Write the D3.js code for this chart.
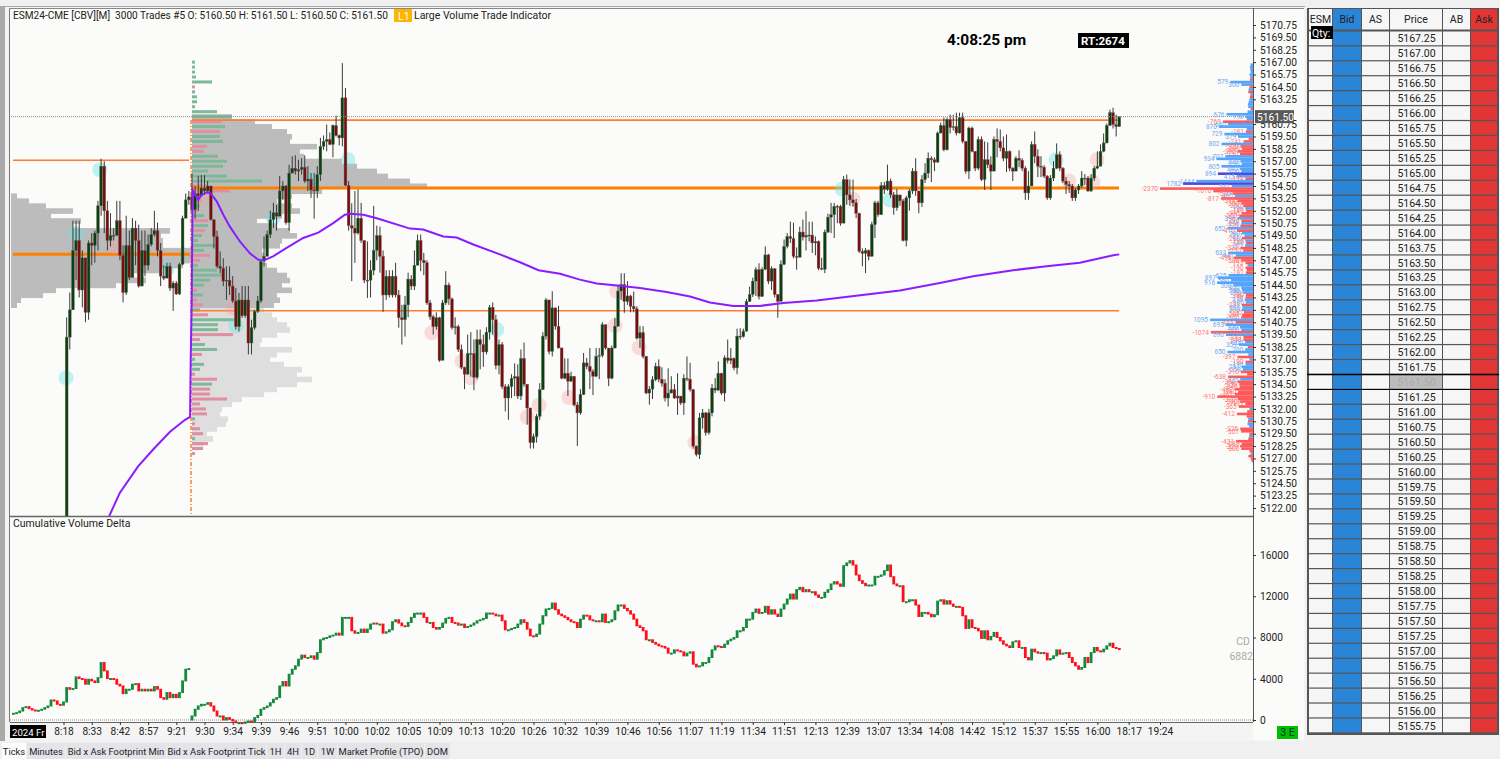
<!DOCTYPE html>
<meta charset="utf-8">
<style>
  body { margin: 0; background: #f0f0f0; overflow: hidden; }
  svg { display: block; }
  text { font-family: Roboto, "Liberation Sans", sans-serif; }
  .axis path { display: none; }
  .axis line { stroke: #333; }
  .axis text { fill: #222; font-size: 10.2px; }
</style>

<script src="https://d3js.org/d3.v7.min.js"></script>
<svg id="chart" width="1500" height="759"></svg>

<script>
// prices are kept as offset from 5100, bars are numbered from the first CVD bar
const priceBase = 5100;
const firstPriceBar = 17;
const firstPriceOpen = 20;

const barClose = [
  39.25,42,48,49,44,47.25,41.75,48.75,48.5,49.75,
  52.5,56.5,52,49,49.5,49.5,51,47.5,43.75,48.5,
  45.25,50.25,49,44.4,48,46.5,48.6,49.6,50,48,
  45.4,45.2,46.4,44.2,44.7,43.6,46.6,51.25,53.1,53.4,
  52.1,53.75,53.5,54.3,54,54.5,51.1,49.4,46.4,46.2,
  44.9,45,44.4,42.9,40.3,43,41.4,43,38.65,40.2,
  41.85,42.9,46.9,47.4,49.6,51.1,51.8,51.45,54,54.5,
  50.8,55.8,56.3,56,56.15,56.4,55,55.2,54.1,54,
  55.65,58.5,59,59.2,58.7,60.6,59.6,59.35,63.4,54.55,
  50.5,50.25,49.75,51.25,49,45,45,46,48,49.5,
  47.4,43.5,45.4,43.5,45.4,43.5,41.2,41,42.5,45.1,
  44.4,46.5,49,47,46.75,42.7,41.3,40.3,41.2,36.9,
  42.7,44.5,43.1,40.2,40.3,38,36.2,35.5,37.6,37.6,
  35.2,39,38.5,37.75,39.75,42.25,41,36.4,38.5,34.25,
  33.1,34.25,35.1,35.25,33.3,37.1,34.5,32.1,28.6,29.2,
  31.25,33.95,39.35,43,37.8,42.2,40.35,38.15,35.1,35.6,
  34.8,35.3,32.4,31.6,33.45,36.65,36.3,35.8,35.3,37.3,
  37.4,40.5,38.15,35.1,38.15,40.35,43.9,44.55,42.85,43.4,
  42.35,42.1,39.15,39.7,37.3,33.6,34,34.95,36.3,35,
  34.6,33.1,33.6,33.95,33.1,33.3,32.6,35.1,35,33.95,
  28.25,27.4,31.1,31.6,29.6,31.6,34.1,33.9,35.6,33.6,
  37.15,36.9,37.1,36.15,39.35,39.3,39.85,42.85,43.55,44.9,
  46.05,43.35,46.1,47.55,44.9,46.15,43.55,42.85,46.6,48.4,
  49.4,49.2,47.4,47.3,49.85,49.35,49.5,49.55,48.75,48.9,
  46.2,46.1,49.85,51.35,51.6,52.45,52.45,50.75,55.15,53.6,
  53.1,52.8,51.75,47.9,47.7,48,47.4,50.6,52.8,51.6,
  54.55,54.15,55,53.6,52.3,53.6,53,49,53.3,54,
  56,54,52.8,55.15,55.8,57.3,57.15,56.9,59.85,60.6,
  58.15,61.2,60.4,60.5,59.85,61.4,59,56,60.35,58,
  56.3,59.2,55.15,57.15,56.65,56,59.2,59,58.35,57.3,
  58,56.3,56,57.3,57.1,56.3,53.8,54.5,58.7,57.5,
  56.5,56.4,55.5,53.3,55.3,56.3,57.65,56.3,55,54.65,
  54.5,53.3,54.1,54.5,55.3,55.3,54,55.3,56.3,56.5,
  58,58.85,60.6,61.9,60.7,60.5,61.5
];

const barHigh = [
  41.25,43.75,51,51,51,48,47.25,49,49.75,50,
  53,57.25,57,53,51.75,50.25,53,53,48.5,51.5,
  50,51.25,51,50.6,50,50,49.6,50.25,52,50.8,
  48.75,46.5,46.75,46.75,44.9,44.9,46.75,51.5,53.75,54,
  55.8,54.5,55.5,55.6,55.6,55,54,51.1,50,47.9,
  47.2,46.4,46.4,45.4,44.2,43.7,44.4,44.4,44.4,41,
  42,43.4,47.1,49.4,50,52,52.8,52.6,55.5,55,
  54.6,56.65,57.5,57.6,57.15,57.3,57.6,56.5,55.8,55.8,
  56.5,59.35,59.6,60.7,59.9,60.7,61.6,59.7,66.9,64.4,
  55,52.75,54,54.15,52.8,49,48.9,47,52.5,50.5,
  50.4,48,46,46,46,46.75,44,42.5,43.4,45.75,
  45.5,48,49.6,49.6,47.75,47,43,41.5,41.75,41.3,
  43,45.9,44.75,43.25,41.25,40.5,38.5,36.25,39.5,39.75,
  39,40,40,39.5,40.25,42.5,42.75,41.5,39,38.75,
  34.5,34.5,35.5,36.6,36.5,38,38.7,34,30.5,29.5,
  31.5,34.6,39.75,43.2,43,43.87,42.2,42.4,38.2,37.1,
  37.1,35.75,35.2,32.7,34,37.65,37.15,38.15,36,38.15,
  38.15,40.75,40.5,38.15,38.4,41.2,44.4,45.7,45.7,44.9,
  43.5,43.85,42.35,40.35,40.35,37.35,34.3,35.3,36.65,37,
  36.2,35,36.1,35.3,34.5,35.6,33.3,35.5,37.3,36.65,
  34,28.3,31.6,32,31.7,32,34.5,35.1,36.8,35.65,
  37.4,39,38.15,37.2,40.1,40.15,40.1,43.1,44.35,45.25,
  46.3,46.7,46.3,48.4,47.65,46.4,46.2,43.6,47,49.1,
  49.75,50.9,50.8,48.3,50.4,51.1,51.95,50.9,50.9,49.4,
  49,47.25,50.1,51.7,52.8,52.8,52.6,52.6,55.5,55.65,
  55.15,55.15,53.2,51.8,48.2,48.25,48.1,50.9,53,53,
  54.9,54.9,56.65,55.25,53.9,54.2,53.5,53.2,53.5,54.2,
  56.3,57.3,54,55.6,56.8,57.9,57.5,57.4,60,60.9,
  61.4,61.4,61.7,61.7,61.9,61.9,61.9,59,60.5,60.5,
  58,59.5,59.5,59,58.9,57.5,59.5,60.3,60.2,59.5,
  59.7,58.1,56.4,57.5,58.1,57.3,56.5,56,59,60,
  58.2,57.5,56.6,55.6,55.6,57,58.8,58,56.4,55.4,
  55,54.7,54.3,54.7,56,55.7,55.5,55.7,56.5,58,
  58.7,59.8,60.8,62.2,62.4,61.7,61.5
];

const barLow = [
  20,38,42,45,43.25,42.25,40.75,41,46.5,46.75,
  48,51.5,49.75,48,48.4,49,49.5,47,42.75,43.5,
  45,45.4,46.5,44.25,44.5,45.4,46,48.4,49.4,47.4,
  44.4,45,45.2,43.9,41.9,43.5,43.5,46.5,51.25,52.6,
  52,51.2,52,53.5,53.6,53.8,51,48.2,46.2,45.7,
  44.4,43,43.5,42.7,40,39.8,41.2,41.2,37.5,37.5,
  40,41.7,42.7,46.4,47.4,49.25,50.25,50,52.5,53.1,
  50.6,50,55.8,55.65,55,55.65,54.8,54,53.3,51.2,
  53.3,55,58.15,58,58.6,57.4,59.5,58.6,58.5,54.5,
  50,44.9,46.75,49.6,48.75,44.7,43.2,43.25,45.5,47,
  45.75,41.8,43,43.25,43.25,43.25,40.2,38.5,39.3,41.25,
  44,44,47,45.9,45.5,42.5,41,39.5,40,36.75,
  37,42.5,42.5,40,39.5,37.75,36,34,35.5,35.25,
  33.9,35,36,36.25,37.5,39,39.5,36,35.5,34,
  31.75,30.9,33.1,33.3,33,32.9,34.25,30.4,28,28,
  28.6,30.9,33.9,39,37.5,37.3,40,38.1,35,35,
  33.3,34.75,32.25,28.25,31.4,33.4,36,34,33.4,35.2,
  35,37.2,38,34.3,35,38.1,40.3,43,41.7,42.5,
  41.75,41.75,39,38.15,37.1,33.5,32.43,33,34.8,34.7,
  34.25,32.75,32.25,33.6,33,31.4,32.4,31.4,34.8,33.75,
  28,27.2,26.95,30,29.3,29.4,31.25,33.6,33.8,33.4,
  32.75,36.6,36.5,35.9,35.5,39,39.2,39.8,42.8,43.3,
  43.4,43.05,43.3,46,44.6,44,43.25,41.2,42.9,46.5,
  48.2,48.75,47.2,46.05,48.2,49,48,48.9,47.75,47.5,
  46,46,45.7,49.75,49.75,49.25,50.75,50.5,51.6,52.6,
  52.5,52.4,51.25,47.75,46.4,45.7,47,47.4,49.25,51.4,
  51.6,53.7,54,53.3,51.6,52,52.5,48.9,48.4,52,
  53.7,53.5,51.75,52.4,54.8,55.3,54.9,56,56.9,59.8,
  58,58.1,59.8,60.1,59.6,59.8,58.8,55.75,55.2,57.9,
  56,56.1,55,54.1,56.3,54.1,56,57.4,58,57,
  55.9,56,55,56.3,56.4,56,53.1,53.1,55,56.8,
  55.4,55.4,55.3,53.1,53.1,55,56.2,56,54.8,53.7,
  53.8,53,53,53.7,54.3,54.6,53.9,53.9,55,56.2,
  56.5,57.9,58.8,60.6,60.3,59.5,60.5
];

const cvdResetBar = 57;
const cvdClose = [
  650,710,870,1200,1300,1100,970,910,940,1040,
  1200,1360,1940,1850,1520,1430,1750,3140,2980,3050,
  4180,4020,3950,3470,3950,3790,3630,4110,5570,4760,
  4020,4020,3950,3470,3300,2560,2980,2980,3470,3530,
  2820,2980,2820,2980,2820,3240,2980,2170,2010,2660,
  2170,2490,2170,2660,3790,4920,4990,
  390,1040,1360,1520,1520,1680,1360,870,390,390,
  0,230,60,-100,-260,-260,-320,-190,-100,-190,
  230,450,1040,1200,1360,1680,2010,2170,3300,3730,
  3300,4440,4920,5250,5900,6290,6060,6060,6220,5900,
  6540,7780,7940,8000,8160,8230,8420,8230,9950,9950,
  9950,8650,8420,8490,8810,8490,8810,9300,9400,9300,
  9300,8420,8550,8750,9530,9720,9400,9140,9070,9460,
  9950,10340,10370,10370,9950,9460,9460,8970,8810,8970,
  9400,9850,9950,9460,9400,9200,9300,8970,9070,9200,
  9400,9620,9720,9850,10370,10370,10270,10110,10170,9620,
  8750,8750,8880,8970,9300,9720,9460,8810,8160,8100,
  8330,9300,10110,10760,10820,11340,10690,10270,10110,9950,
  9720,9530,9460,8970,9780,10170,10110,9720,9620,9620,
  9530,10270,9460,9530,9720,10590,11150,11150,10820,10590,
  10270,9780,9140,8970,8650,7780,
  7780,7520,7350,7190,7130,6970,6480,6480,6800,6710,
  6610,6220,6480,6610,5410,5150,5250,5570,5570,6060,
  6800,7190,7130,7030,7350,7680,7840,8000,8650,8650,
  8970,9780,9780,10430,10760,10340,10430,11020,10270,10690,
  10270,10040,10760,11240,11730,12210,11730,12640,12860,12440,
  12640,12440,12440,12120,11890,11890,12380,12640,13190,13410,
  13190,12960,14970,15230,15450,15030,14060,13510,13250,13020,
  13090,13090,13930,13930,14060,14480,15030,13900,13190,13020,
  13020,11470,11470,11660,11660,11150,10040,10430,10430,10270,
  10010,10210,11530,11660,11240,11570,11240,11020,11020,10920,
  10110,8880,9720,8970,8880,8650,7910,8650,7780,8100,
  8490,8000,7680,7350,7190,7030,7580,7680,7030,7030,
  6060,5830,6870,6610,6480,6540,6480,5830,5960,6220,
  6800,6380,6480,6540,6060,5570,5250,4920,5090,6060,
  5570,6540,7030,6710,6610,6870,7190,7450,7030,6930,
  6882
];

// session profile on the left of the 9:30 open, one row per half point, top price first
const overnightTopPrice = 53.5;
const overnightVolume = [
  6,18,35,62,40,70,62,159,150,152,152,180,180,180,172,150,120,135,105,45,32,10,6
];

// day profile, one row per half point
const sessionTopPrice = 61.5;
const sessionValueRows = 39;
const sessionVolume = [
  40,63,80,95,100,98,125,108,112,150,165,185,196,218,235,130,100,85,100,108,
  90,65,85,98,105,90,88,70,72,68,75,85,95,98,90,100,85,88,82,
  72,80,85,95,98,85,70,68,100,85,78,92,110,105,120,105,85,72,50,40,30,28,36,34,25,15,21,12
];

const deltaTopPrice = 67;
const sessionDelta = [
  3,3,3,4,20,-3,3,5,5,3,25,40,-30,33,-28,28,31,-15,-12,26,
  35,31,16,35,70,-16,-38,5,-10,8,-6,12,-16,16,-13,10,6,25,12,-18,
  -8,6,25,30,18,12,-5,11,-5,-11,8,-16,43,26,26,-41,-8,13,25,-10,
  3,12,8,-3,-25,20,-18,-18,-35,-8,-14,-15,3,-3,-8,-11,3,-16,-11,-3
];

// delta by price at the right edge, one row per tick
const ladderTopPrice = 66.75;
const ladderTick = 0.25;
const ladderDelta = [
  60,80,70,60,90,70,-80,579,300,-90,110,-120,70,-80,90,110,130,120,-60,140,
  676,190,160,-769,640,870,160,-181,729,379,-109,-241,802,-320,-280,-390,-330,707,934,320,
  290,805,340,300,894,415,-194,1444,1782,541,-2370,-1010,-520,465,-817,-398,-300,-250,196,-180,
  -290,-350,396,-296,296,-320,652,-410,280,217,-280,196,-180,201,-321,-250,632,441,-498,-300,
  -193,139,-190,-160,-182,625,897,560,916,500,300,280,250,-180,-190,210,180,-281,270,290,
  -230,-281,-300,1095,-444,693,330,300,-1074,690,-243,-243,200,359,-133,200,650,120,-397,90,
  -190,190,291,258,-310,-150,-638,325,-392,-350,-340,-462,-380,-462,-910,-390,-340,-193,-365,90,
  -150,-412,-160,120,-130,140,100,-326,-307,-90,100,-120,-431,-289,-329,-300,-90,60,-118,-60,-40
];
const ladderHighlight = [894, 1782];

const vwapBar = [
  30.6,34,39.8,44.6,50,54.8,56.4,56.6,56.9,57.2,59,60.1,61.7,62.8,64.9,67,69.1,72.3,75.5,78.2,
  80.3,82.9,87.2,92.5,97.3,102.1,105.8,107.4,111.7,116,126.6,130.8,137.2,141.5,146.8,155.3,
  161.7,167.6,174.5,180.8,186.2,192.6,200,208.5,216,222.3,229.8,238.3,245.8,256.4,267,283,
  295.7,306.4,319.1,329.8,340.4,351.1,353
];
const vwapPrice = [
  21.2,23.55,26.2,27.9,29.7,30.9,31.2,37,42.7,54.1,53.1,53.6,53.85,53.8,52.95,51.6,50.4,48.9,47.7,47.05,
  47.05,47.4,48.25,49.25,49.8,50.75,51.6,51.7,51.6,51.25,50.2,50.1,49.4,49.3,48.6,47.6,
  46.8,46,45.65,45.05,44.65,44.45,44.2,43.8,43.35,42.75,42.4,42.4,42.7,42.95,43.35,43.95,
  44.7,45.4,46,46.4,46.75,47.5,47.6
];

const buyBubbleBar = [27.6,20,16.8,95.3,82.9,106.8,71,49,154.3,264.5,279.8,332.8];
const buyBubblePrice = [56.15,49.7,35.15,55.15,51.3,57.15,40.4,46.05,40,54.2,53.1,57.15];
const sellBubbleBar = [32.4,70,60.2,133.6,143.2,146,164,167.8,177.3,192.6,192,199.7,217.5,268,336.9,344.6,345.9];
const sellBubblePrice = [48.4,42.2,53.3,39.7,36.8,35.15,31.2,32.4,33.15,43.85,40.4,38.2,28.6,53.2,55,54.9,57.15];

const lastPrice = 61.5;
const openBar = 56.7;
const overnightHigh = 57.1;
const overnightPoc = 47.6;
const sessionHigh = 61.15;
const sessionPoc = 54.3;
const sessionLow = 41.9;

const priceTicks = [
  5170.75,5169.5,5168.25,5167,5165.75,5164.5,5163.25,5160.75,5159.5,5158.25,5157,5155.75,5154.5,5153.25,
  5152,5150.75,5149.5,5148.25,5147,5145.75,5144.5,5143.25,5142,5140.75,5139.5,5138.25,5137,5135.75,
  5134.5,5133.25,5132,5130.75,5129.5,5128.25,5127,5125.75,5124.5,5123.25,5122
];
const cvdTicks = [0, 4000, 8000, 12000, 16000];
const timeTickBars = [
  16,25,34,43,52,61,70,79,88,97,106,116,126,136,146,156,166,176,186,196,206,216,226,236,246,256,266,276,
  286,296,306,316,326,336,346,356,366
];
const timeTickLabels = [
  "8:18","8:33","8:42","8:57","9:21","9:30","9:34","9:39","9:46","9:51","10:00","10:02","10:05","10:09",
  "10:13","10:20","10:26","10:32","10:39","10:46","10:56","11:07","11:19","11:34","11:51","12:13","12:39",
  "13:07","13:34","14:08","14:42","15:12","15:37","15:55","16:00","18:17","19:24"
];

const tabNames = ["Ticks","Minutes","Bid x Ask Footprint Min","Bid x Ask Footprint Tick","1H","4H","1D","1W","Market Profile (TPO)","DOM"];
const tabEdges = [2,27,66,167,267,285,302,318,338,425,451];

const domColumns = ["ESM","Bid","AS","Price","AB","Ask"];
const domEdges = [1309,1333,1362,1390,1443,1471,1498];
const domPrices = [
  "5167.25","5167.00","5166.75","5166.50","5166.25","5166.00","5165.75","5165.50","5165.25","5165.00",
  "5164.75","5164.50","5164.25","5164.00","5163.75","5163.50","5163.25","5163.00","5162.75","5162.50",
  "5162.25","5162.00","5161.75","5161.50","5161.25","5161.00","5160.75","5160.50","5160.25","5160.00",
  "5159.75","5159.50","5159.25","5159.00","5158.75","5158.50","5158.25","5158.00","5157.75","5157.50",
  "5157.25","5157.00","5156.75","5156.50","5156.25","5156.00","5155.75"
];

const svg = d3.select("#chart");

// scales
const x = d3.scaleLinear().domain([0, 353]).range([13.4, 1119.3]);
const y = d3.scaleLinear().domain([70.75, 22]).range([25, 508]);
const yCvd = d3.scaleLinear().domain([0, 16000]).range([720, 555]);
const volumeWidth = d3.scaleLinear().domain([0, 100]).range([0, 100]);
const ladderWidth = d3.scaleLinear().domain([0, 2370]).range([0, 93]);

// panels
svg.append("rect").attr("x", 0).attr("y", 6).attr("width", 1305).attr("height", 735).attr("fill", "#a9a9a9");
svg.append("rect").attr("x", 5).attr("y", 7).attr("width", 1300).attr("height", 734).attr("fill", "#f4f4f4");
svg.append("rect").attr("x", 10).attr("y", 9).attr("width", 1243).attr("height", 713).attr("fill", "#fbfbf9");
svg.append("rect").attr("x", 1253).attr("y", 9).attr("width", 51).attr("height", 731).attr("fill", "#fbfbf9");
svg.append("rect").attr("x", 0).attr("y", 0).attr("width", 1500).attr("height", 6).attr("fill", "#f0f0f0");
svg.append("line").attr("x1", 9.5).attr("x2", 9.5).attr("y1", 8).attr("y2", 722).attr("stroke", "#777");
svg.append("line").attr("x1", 9).attr("x2", 1304).attr("y1", 8.5).attr("y2", 8.5).attr("stroke", "#888");
svg.append("line").attr("x1", 1253.5).attr("x2", 1253.5).attr("y1", 8).attr("y2", 722).attr("stroke", "#555");
svg.append("line").attr("x1", 10).attr("x2", 1253).attr("y1", 516.5).attr("y2", 516.5).attr("stroke", "#666").attr("stroke-width", 1.5);
svg.append("line").attr("x1", 10).attr("x2", 1253).attr("y1", 722.5).attr("y2", 722.5).attr("stroke", "#666");

svg.append("clipPath").attr("id", "priceClip").append("rect")
  .attr("x", 10).attr("y", 9).attr("width", 1243).attr("height", 507);

const pricePane = svg.append("g").attr("clip-path", "url(#priceClip)");

// volume profiles behind the candles
function drawProfile(rows, topPrice, left, color) {
  pricePane.append("g").selectAll("rect")
    .data(rows)
    .join("rect")
    .attr("x", left)
    .attr("y", (d, i) => y(topPrice - i * 0.5) - 2.5)
    .attr("width", d => volumeWidth(d))
    .attr("height", 5.6)
    .attr("fill", color);
}
drawProfile(overnightVolume, overnightTopPrice, 11, "#bcbcbc");
drawProfile(sessionVolume.slice(sessionValueRows), sessionTopPrice - sessionValueRows * 0.5, 192, "#dedede");
drawProfile(sessionVolume.slice(0, sessionValueRows), sessionTopPrice, 192, "#bcbcbc");

pricePane.append("g").selectAll("rect")
  .data(sessionDelta)
  .join("rect")
  .attr("x", 192)
  .attr("y", (d, i) => y(deltaTopPrice - i * 0.5) - 1.5)
  .attr("width", d => volumeWidth(Math.abs(d)))
  .attr("height", 3)
  .attr("fill", d => d > 0 ? "#7db898" : "#e08ea2");

// levels
function levelLine(price, from, to, width) {
  pricePane.append("line")
    .attr("x1", from).attr("x2", to)
    .attr("y1", y(price)).attr("y2", y(price))
    .attr("stroke", width > 2 ? "#ff8000" : "#ff7d33")
    .attr("stroke-width", width);
}
levelLine(overnightHigh, 13, 189, 1.5);
levelLine(overnightPoc, 13, 190, 3);
levelLine(sessionHigh, 192, 1119, 1.8);
levelLine(sessionPoc, 192, 1119, 3);
levelLine(sessionLow, 192, 1119, 1.5);

pricePane.append("line")
  .attr("x1", x(openBar)).attr("x2", x(openBar))
  .attr("y1", y(sessionHigh)).attr("y2", 516)
  .attr("stroke", "#ff7d33").attr("stroke-width", 1.5)
  .attr("stroke-dasharray", "4,2,1,2");

svg.append("line")
  .attr("x1", 11).attr("x2", 1253)
  .attr("y1", y(lastPrice)).attr("y2", y(lastPrice))
  .attr("stroke", "#8f8f8f").attr("stroke-dasharray", "1,1");

// bubbles
pricePane.append("g").selectAll("circle")
  .data(buyBubbleBar)
  .join("circle")
  .attr("cx", d => x(d))
  .attr("cy", (d, i) => y(buyBubblePrice[i]))
  .attr("r", 7.5)
  .attr("fill", "#5fe8e8")
  .attr("opacity", 0.4);

pricePane.append("g").selectAll("circle")
  .data(sellBubbleBar)
  .join("circle")
  .attr("cx", d => x(d))
  .attr("cy", (d, i) => y(sellBubblePrice[i]))
  .attr("r", 7.5)
  .attr("fill", "#f7a0a0")
  .attr("opacity", 0.35);

// candles
const candles = pricePane.append("g").selectAll("g")
  .data(barClose)
  .join("g");

candles.append("line")
  .attr("x1", (d, i) => x(i + firstPriceBar))
  .attr("x2", (d, i) => x(i + firstPriceBar))
  .attr("y1", (d, i) => y(barHigh[i]))
  .attr("y2", (d, i) => y(barLow[i]))
  .attr("stroke", "#3a3a3a");

candles.append("rect")
  .attr("x", (d, i) => x(i + firstPriceBar) - 1.4)
  .attr("y", (d, i) => y(Math.max(d, i ? barClose[i - 1] : firstPriceOpen)))
  .attr("width", 2.8)
  .attr("height", (d, i) => Math.max(1, Math.abs(y(d) - y(i ? barClose[i - 1] : firstPriceOpen))))
  .attr("fill", (d, i) => d >= (i ? barClose[i - 1] : firstPriceOpen) ? "#0b3f0d" : "#7a0c0c")
  .attr("stroke", "#6b6b6b")
  .attr("stroke-width", 0.4);

// vwap on top
pricePane.append("path")
  .datum(vwapBar)
  .attr("fill", "none")
  .attr("stroke", "#8a1cff")
  .attr("stroke-width", 2)
  .attr("d", d3.line().x(d => x(d)).y((d, i) => y(vwapPrice[i])));

// delta ladder at the right edge, each row placed on its group so filtered labels keep their price
const ladderRows = svg.append("g").selectAll("g")
  .data(ladderDelta)
  .join("g")
  .attr("transform", (d, i) => `translate(0, ${y(ladderTopPrice - i * ladderTick)})`);

ladderRows.append("rect")
  .attr("x", d => 1253 - ladderWidth(Math.abs(d)))
  .attr("y", -1.2)
  .attr("width", d => ladderWidth(Math.abs(d)))
  .attr("height", 2.6)
  .attr("fill", d => ladderHighlight.includes(d) ? "#4a4ae0" : d > 0 ? "#55a4fb" : "#ff5a5a");

ladderRows.filter(d => Math.abs(d) >= 180).append("text")
  .attr("x", d => 1251 - ladderWidth(Math.abs(d)))
  .attr("y", 2.5)
  .attr("text-anchor", "end")
  .attr("font-size", 6.5)
  .attr("fill", d => d > 0 ? "#6fa8f5" : "#f77")
  .text(d => d);

// price axis
svg.append("g")
  .attr("class", "axis")
  .attr("transform", "translate(1253,0)")
  .call(d3.axisRight(d3.scaleLinear().domain(y.domain().map(d => d + priceBase)).range(y.range()))
    .tickValues(priceTicks).tickSize(3).tickPadding(4).tickFormat(d => d.toFixed(2)));

svg.append("rect").attr("x", 1255).attr("y", y(lastPrice) - 6.5).attr("width", 39).attr("height", 13).attr("fill", "#5a5a5a");
svg.append("text").attr("x", 1257).attr("y", y(lastPrice) + 4).attr("fill", "#fff").attr("font-size", 10.2)
  .text((priceBase + lastPrice).toFixed(2));

// header texts
svg.append("text").attr("x", 13).attr("y", 19).attr("font-size", 10.1).attr("fill", "#222")
  .attr("xml:space", "preserve")
  .text("ESM24-CME [CBV][M]  3000 Trades #5 O: 5160.50 H: 5161.50 L: 5160.50 C: 5161.50");
svg.append("rect").attr("x", 394).attr("y", 9).attr("width", 18).attr("height", 13).attr("fill", "#ffb400");
svg.append("text").attr("x", 398).attr("y", 19.5).attr("font-size", 10.5).attr("fill", "#fff").text("L1");
svg.append("text").attr("x", 414).attr("y", 19).attr("font-size", 10.5).attr("fill", "#222").text("Large Volume Trade Indicator");
svg.append("text").attr("x", 947).attr("y", 45).attr("font-size", 15.5).attr("font-weight", "bold").attr("fill", "#000").text("4:08:25 pm");
svg.append("rect").attr("x", 1078).attr("y", 33).attr("width", 51).attr("height", 15).attr("fill", "#000");
svg.append("text").attr("x", 1081).attr("y", 45).attr("font-size", 11.5).attr("font-weight", "bold").attr("fill", "#fff").text("RT:2674");

// cvd pane
svg.append("text").attr("x", 13).attr("y", 527).attr("font-size", 10.5).attr("fill", "#222").text("Cumulative Volume Delta");
svg.append("line").attr("x1", 10).attr("x2", 1253).attr("y1", yCvd(0)).attr("y2", yCvd(0))
  .attr("stroke", "#8f8f8f").attr("stroke-dasharray", "1,1");

svg.append("g").selectAll("rect")
  .data(cvdClose)
  .join("rect")
  .attr("x", (d, i) => x(i) - 1.4)
  .attr("y", (d, i) => yCvd(Math.max(d, i === cvdResetBar ? 0 : (i ? cvdClose[i - 1] : d))) - 0.5)
  .attr("width", 2.8)
  .attr("height", (d, i) => Math.max(2, Math.abs(yCvd(d) - yCvd(i === cvdResetBar ? 0 : (i ? cvdClose[i - 1] : d))) + 1))
  .attr("fill", (d, i) => d >= (i === cvdResetBar ? 0 : (i ? cvdClose[i - 1] : d)) ? "#14893c" : "#ff0f1b");

svg.append("g")
  .attr("class", "axis")
  .attr("transform", "translate(1253,0)")
  .call(d3.axisRight(yCvd).tickValues(cvdTicks).tickSize(3).tickPadding(4).tickFormat(d => d));

svg.append("text").attr("x", 1250).attr("y", 645).attr("text-anchor", "end").attr("font-size", 10.5).attr("fill", "#aaa").text("CD");
svg.append("text").attr("x", 1253).attr("y", 660).attr("text-anchor", "end").attr("font-size", 10.5).attr("fill", "#aaa").text(cvdClose[cvdClose.length - 1]);

// time axis
svg.append("g")
  .attr("class", "axis")
  .attr("transform", "translate(0,722)")
  .call(d3.axisBottom(x).tickValues(timeTickBars).tickSize(3).tickPadding(3)
    .tickFormat((d, i) => timeTickLabels[i]));

svg.append("rect").attr("x", 10).attr("y", 725).attr("width", 36).attr("height", 13).attr("fill", "#000");
svg.append("text").attr("x", 12).attr("y", 735.5).attr("font-size", 9.6).attr("fill", "#fff").text("2024 Fr");
svg.append("rect").attr("x", 1277).attr("y", 726).attr("width", 21).attr("height", 13).attr("fill", "#00c000");
svg.append("text").attr("x", 1287.5).attr("y", 736).attr("text-anchor", "middle").attr("font-size", 10.5).attr("fill", "#033").text("3 E");

// tabs
svg.append("rect").attr("x", 0).attr("y", 741).attr("width", 1305).attr("height", 18).attr("fill", "#f0f0f0");
const tabs = svg.append("g").selectAll("g")
  .data(tabNames)
  .join("g");
tabs.append("rect")
  .attr("x", (d, i) => tabEdges[i])
  .attr("y", 743)
  .attr("width", (d, i) => tabEdges[i + 1] - tabEdges[i] - 1)
  .attr("height", 16)
  .attr("fill", (d, i) => i ? "#e3e3e8" : "#fdfdfd");
tabs.append("text")
  .attr("x", (d, i) => (tabEdges[i] + tabEdges[i + 1] - 1) / 2)
  .attr("y", 755)
  .attr("text-anchor", "middle")
  .attr("font-size", 9.4)
  .attr("fill", "#222")
  .text(d => d);

// price ladder on the right
const domY = d3.scaleBand().domain(domPrices).range([31, 733]);
const dom = svg.append("g");
dom.append("rect").attr("x", 1305).attr("y", 0).attr("width", 195).attr("height", 759).attr("fill", "#f0f0f0");
dom.append("rect").attr("x", 1307).attr("y", 8).attr("width", 192).attr("height", 727).attr("fill", "#555");

domColumns.forEach(function(name, c) {
  const left = domEdges[c], w = domEdges[c + 1] - left - 1;
  const fill = name === "Bid" ? "#2b85d6" : name === "Ask" ? "#e23535" : "#f6f6f6";
  dom.append("rect").attr("x", left).attr("y", 9).attr("width", w).attr("height", 20.5).attr("fill", fill);
  dom.append("text").attr("x", left + w / 2).attr("y", 22.5).attr("text-anchor", "middle")
    .attr("font-size", 10.5).attr("fill", "#222").text(name);
  dom.append("g").selectAll("rect")
    .data(domPrices)
    .join("rect")
    .attr("x", left)
    .attr("y", d => domY(d) + 0.5)
    .attr("width", w)
    .attr("height", domY.bandwidth() - 1.2)
    .attr("fill", d => name === "Price" && d === "5161.50" ? "#bcbcbc" : fill);
});

dom.append("g").selectAll("text")
  .data(domPrices)
  .join("text")
  .attr("x", (domEdges[3] + domEdges[4]) / 2)
  .attr("y", d => domY(d) + domY.bandwidth() / 2 + 4)
  .attr("text-anchor", "middle")
  .attr("font-size", 10.5)
  .attr("fill", d => d === "5161.50" ? "#aaa" : "#222")
  .text(d => d);

dom.append("rect").attr("x", 1311).attr("y", 26).attr("width", 22).attr("height", 13).attr("fill", "#000");
dom.append("text").attr("x", 1312).attr("y", 36.5).attr("font-size", 10.5).attr("fill", "#fff").text("Qty:");
dom.append("line").attr("x1", 1307).attr("x2", 1499)
  .attr("y1", domY("5161.50")).attr("y2", domY("5161.50"))
  .attr("stroke", "#000").attr("stroke-width", 1.5);
dom.append("line").attr("x1", 1307).attr("x2", 1499)
  .attr("y1", domY("5161.25")).attr("y2", domY("5161.25"))
  .attr("stroke", "#000").attr("stroke-width", 1);
</script>
